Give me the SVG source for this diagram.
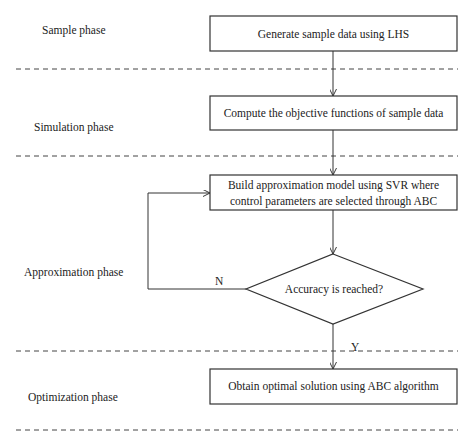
<svg xmlns="http://www.w3.org/2000/svg" width="474" height="447" viewBox="0 0 474 447">
<style>
.bg{fill:#fff}
.box{fill:#fff;stroke:#333;stroke-width:1.2}
.dash{stroke:#444;stroke-width:1;stroke-dasharray:5,4;fill:none}
.con{stroke:#333;stroke-width:1;fill:none}
text{font-family:"Liberation Serif","Times New Roman",serif;font-size:11.5px;fill:#222}
.c{text-anchor:middle}
</style>
<defs>
<marker id="ah" viewBox="0 0 10 10" refX="10" refY="5" markerWidth="7" markerHeight="7" orient="auto" markerUnits="userSpaceOnUse">
<path d="M0,0 L10,5 L0,10" fill="none" stroke="#333" stroke-width="1.4"/>
</marker>
</defs>
<rect class="bg" x="0" y="0" width="474" height="447"/>
<g id="dividers">
<line class="dash" x1="16" y1="69" x2="458" y2="69"/>
<line class="dash" x1="16" y1="156" x2="458" y2="156"/>
<line class="dash" x1="16" y1="351" x2="458" y2="351"/>
<line class="dash" x1="16" y1="430" x2="458" y2="430"/>
</g>
<g id="phase-labels">
<text x="42" y="34">Sample phase</text>
<text x="34" y="131">Simulation phase</text>
<text x="24" y="276">Approximation phase</text>
<text x="28" y="401">Optimization phase</text>
</g>
<g id="connectors">
<line class="con" x1="333" y1="51" x2="333" y2="96" marker-end="url(#ah)"/>
<line class="con" x1="333" y1="130" x2="333" y2="175" marker-end="url(#ah)"/>
<line class="con" x1="333" y1="210" x2="333" y2="254" marker-end="url(#ah)"/>
<polyline class="con" points="246,289 148,289 148,193 210,193" marker-end="url(#ah)"/>
<line class="con" x1="333" y1="324" x2="333" y2="369" marker-end="url(#ah)"/>
<text x="215" y="285">N</text>
<text x="351" y="351">Y</text>
</g>
<g id="n1">
<rect class="box" x="210" y="16" width="247" height="35"/>
<text class="c" x="333.5" y="37.5">Generate sample data using LHS</text>
</g>
<g id="n2">
<rect class="box" x="210" y="96" width="247" height="34"/>
<text class="c" x="333.5" y="117">Compute the objective functions of sample data</text>
</g>
<g id="n3">
<rect class="box" x="210" y="175" width="247" height="35"/>
<text class="c" x="333.5" y="189">Build approximation model using SVR where</text>
<text class="c" x="333.5" y="205">control parameters are selected through ABC</text>
</g>
<g id="n4">
<polygon class="box" points="333,254 423,289 333,324 246,289"/>
<text class="c" x="334" y="293">Accuracy is reached?</text>
</g>
<g id="n5">
<rect class="box" x="210" y="369" width="247" height="35"/>
<text class="c" x="333.5" y="390">Obtain optimal solution using ABC algorithm</text>
</g>
</svg>
